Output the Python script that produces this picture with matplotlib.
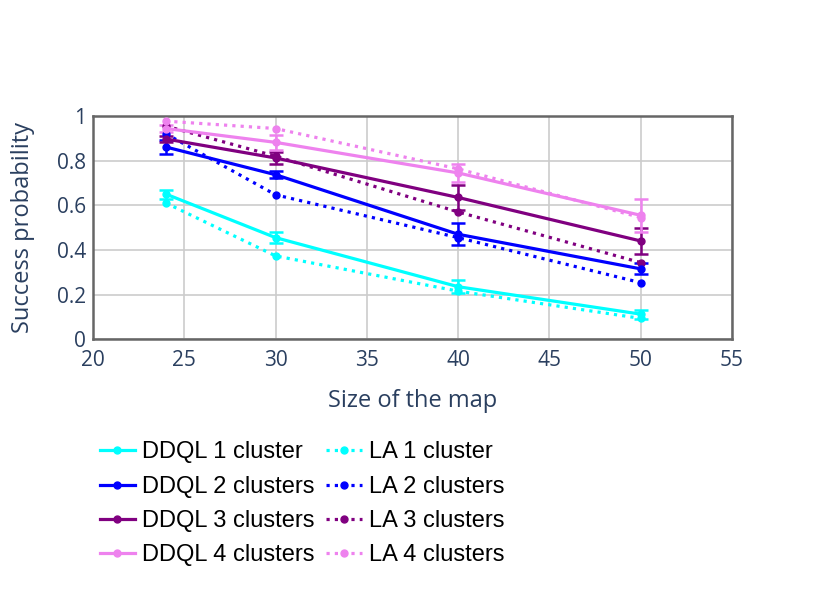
import matplotlib
matplotlib.use('Agg')
from matplotlib import pyplot as plt
from matplotlib.lines import Line2D

map_size = [24, 30, 40, 50]

ddql_1 = [0.650, 0.455, 0.235, 0.112]
ddql_2 = [0.861, 0.737, 0.470, 0.315]
ddql_3 = [0.897, 0.812, 0.635, 0.440]
ddql_4 = [0.944, 0.882, 0.745, 0.555]
ddql_1_err = [0.020, 0.025, 0.030, 0.020]
ddql_2_err = [0.030, 0.015, 0.050, 0.025]
ddql_3_err = [0.015, 0.025, 0.055, 0.060]
ddql_4_err = [0.015, 0.035, 0.040, 0.075]

la_1 = [0.610, 0.373, 0.215, 0.093]
la_2 = [0.920, 0.647, 0.455, 0.253]
la_3 = [0.955, 0.820, 0.570, 0.343]
la_4 = [0.977, 0.944, 0.763, 0.545]

colors = ['#00ffff', '#0000ff', '#800080', '#ee82ee']
ddql = [ddql_1, ddql_2, ddql_3, ddql_4]
ddql_err = [ddql_1_err, ddql_2_err, ddql_3_err, ddql_4_err]
la = [la_1, la_2, la_3, la_4]
names = ['1 cluster', '2 clusters', '3 clusters', '4 clusters']

tick_color = '#2a3f5f'
dot = (0, (1, 1.6))

fig = plt.figure(figsize=(8.3, 5.95), dpi=100)
ax = fig.add_axes([0.112, 0.430, 0.770, 0.375])

handles = []
for i in range(4):
    ax.errorbar(map_size, ddql[i], yerr=ddql_err[i], color=colors[i], lw=2.3,
                marker='o', ms=5, capsize=5, elinewidth=1.8, capthick=1.8, zorder=3)
    handles.append(Line2D([], [], color=colors[i], lw=2.3, marker='o', ms=5,
                          label='DDQL ' + names[i]))
for i in range(4):
    h, = ax.plot(map_size, la[i], color=colors[i], lw=2.3, ls=dot,
                 marker='o', ms=5, label='LA ' + names[i], zorder=3)
    handles.append(h)

ax.set_xlim(20, 55)
ax.set_ylim(0, 1)
ax.set_xticks([20, 25, 30, 35, 40, 45, 50, 55])
ax.set_yticks([0, 0.2, 0.4, 0.6, 0.8, 1])
ax.set_yticklabels(['0', '0.2', '0.4', '0.6', '0.8', '1'])
ax.grid(color='#cccccc', lw=1.2, zorder=0)
ax.set_axisbelow(True)
for s in ax.spines.values():
    s.set_color('#666666')
    s.set_linewidth(1.8)
ax.tick_params(length=0, labelsize=15, labelcolor=tick_color)
ax.tick_params(axis='x', pad=8)
ax.tick_params(axis='y', pad=5)
for t in ax.get_xticklabels() + ax.get_yticklabels():
    t.set_family('Open Sans')
ax.set_xlabel('Size of the map', family='Open Sans', fontsize=17, color=tick_color, labelpad=13)
ax.set_ylabel('Success probability', family='Open Sans', fontsize=17, color=tick_color, labelpad=16)

fig.legend(handles=handles, ncol=2, loc='upper left', bbox_to_anchor=(0.120, 0.258),
           frameon=False, prop={'family': 'Liberation Sans', 'size': 17},
           handlelength=1.5, handletextpad=0.3, columnspacing=0.5, labelspacing=0.52,
           borderaxespad=0, borderpad=0)

fig.savefig('out.png', dpi=100)
